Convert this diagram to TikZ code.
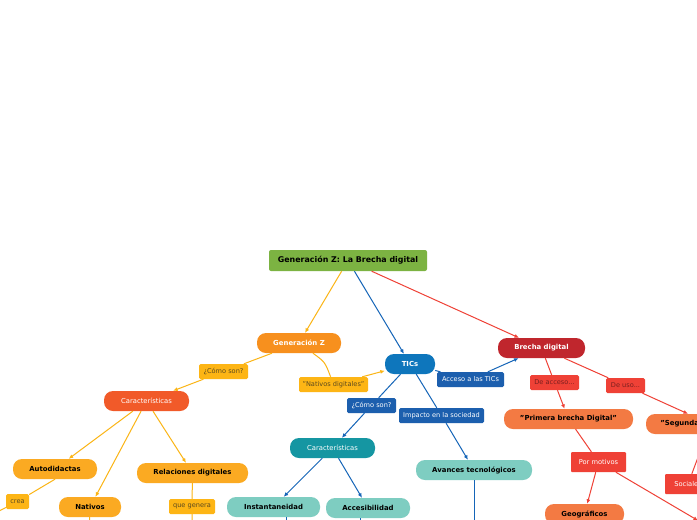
\documentclass[tikz,border=0pt]{standalone}
\usepackage{fontspec}
\setmainfont{DejaVu Sans}
\usetikzlibrary{arrows.meta}

\definecolor{cRoot}{HTML}{7CB342}
\definecolor{cGenZ}{HTML}{F7901E}
\definecolor{cTics}{HTML}{0E76BC}
\definecolor{cBrecha}{HTML}{C0262D}
\definecolor{cYlw}{HTML}{FDB515}
\definecolor{cYlwTxt}{HTML}{5C4A1E}
\definecolor{cCarA}{HTML}{F15A29}
\definecolor{cBlueTag}{HTML}{1C5FAE}
\definecolor{cRedTag}{HTML}{EF4136}
\definecolor{cRedTxt}{HTML}{7A1F1F}
\definecolor{cOrng}{HTML}{F37A43}
\definecolor{cCarB}{HTML}{1596A2}
\definecolor{cMint}{HTML}{7ECDC1}
\definecolor{cAmber}{HTML}{FBAA22}
\definecolor{lnYlw}{HTML}{FBB515}
\definecolor{lnBlu}{HTML}{1565B8}
\definecolor{lnRed}{HTML}{EF4136}

\begin{document}
\begin{tikzpicture}[x=1pt,y=-1pt,
    pill/.style={rounded corners=9pt, minimum height=20pt, inner sep=0pt,
        font=\fontsize{6.9}{8}\selectfont\bfseries},
    plain/.style={font=\fontsize{6.8}{8}\selectfont},
    tag/.style={rounded corners=1.5pt, minimum height=15pt, inner sep=0pt,
        font=\fontsize{6.6}{8}\selectfont},
    box/.style={rounded corners=1pt, minimum height=20pt, inner sep=0pt,
        font=\fontsize{6.7}{8}\selectfont},
    ylw/.style={draw=lnYlw, line width=1pt},
    blu/.style={draw=lnBlu, line width=1pt},
    rd/.style={draw=lnRed, line width=1pt},
    arr/.style={-{Latex[length=4.5pt,width=4pt]}}]

    % Canvas
    \fill[white] (0,0) rectangle (697,520);
    \useasboundingbox (0,0) rectangle (697,520);

    % Root
    \node[fill=cRoot, rounded corners=2pt, minimum width=158pt, minimum height=21pt,
        inner sep=0pt, font=\fontsize{7.9}{9}\selectfont\bfseries] (root) at (348,260.5)
        {Generación Z: La Brecha digital};

    % Main topics
    \node[pill, fill=cGenZ, text=white, minimum width=84pt] (genz) at (299,343) {Generación Z};
    \node[pill, fill=cTics, text=white, minimum width=50pt] (tics) at (410,364) {TICs};
    \node[pill, fill=cBrecha, text=white, minimum width=87pt] (brecha) at (541.5,348) {Brecha digital};

    % Generacion Z branch
    \node[tag, fill=cYlw, text=cYlwTxt, minimum width=49pt] (comoA) at (223.5,371.5) {¿Cómo son?};
    \node[tag, fill=cYlw, text=cYlwTxt, minimum width=69pt] (natdig) at (333.5,384.5) {"Nativos digitales"};
    \node[pill, plain, fill=cCarA, text=white, minimum width=85pt] (carA) at (146.5,401) {Características};
    \node[pill, fill=cAmber, minimum width=84pt] (autodid) at (55,469) {Autodidactas};
    \node[pill, fill=cAmber, minimum width=111pt] (relac) at (192.5,473) {Relaciones digitales};
    \node[pill, fill=cAmber, minimum width=62pt] (nativos) at (90,507) {Nativos};
    \node[tag, fill=cYlw, text=cYlwTxt, minimum width=23pt] (crea) at (17.5,501.5) {crea};
    \node[tag, fill=cYlw, text=cYlwTxt, minimum width=46pt] (genera) at (192,506.5) {que genera};

    % TICs branch
    \node[tag, fill=cBlueTag, text=white, minimum width=67pt] (acceso) at (470.5,379.5) {Acceso a las TICs};
    \node[tag, fill=cBlueTag, text=white, minimum width=49pt] (comoB) at (371.5,405.5) {¿Cómo son?};
    \node[tag, fill=cBlueTag, text=white, minimum width=85pt] (impacto) at (441.5,415.5) {Impacto en la sociedad};
    \node[pill, plain, fill=cCarB, text=white, minimum width=85pt] (carB) at (332.5,448) {Características};
    \node[pill, fill=cMint, minimum width=116pt] (avances) at (474,470) {Avances tecnológicos};
    \node[pill, fill=cMint, minimum width=93pt] (instant) at (273.5,507) {Instantaneidad};
    \node[pill, fill=cMint, minimum width=84pt] (accesib) at (368,508) {Accesibilidad};

    % Brecha digital branch
    \node[tag, fill=cRedTag, text=cRedTxt, minimum width=49pt] (deacceso) at (554.5,382.5) {De acceso...};
    \node[tag, fill=cRedTag, text=cRedTxt, minimum width=39pt] (deuso) at (625.5,385.5) {De uso...};
    \node[pill, fill=cOrng, minimum width=129pt] (primera) at (568.5,419) {"Primera brecha Digital"};
    \node[pill, fill=cOrng, minimum width=129pt] (segunda) at (710.5,424) {"Segunda brecha Digital"};
    \node[box, fill=cRedTag, text=white, minimum width=55pt] (motivos) at (598.5,462) {Por motivos};
    \node[box, fill=cRedTag, text=white, minimum width=46pt] (sociales) at (688,484) {Sociales};
    \node[pill, fill=cOrng, minimum width=79pt] (geo) at (584.5,514) {Geográficos};

    % Loose ends below and beside the frame
    \coordinate (creaOut) at (-20,520.8);
    \coordinate (natOut) at (89,545);
    \coordinate (genOut) at (192,545);
    \coordinate (instOut) at (286,545);
    \coordinate (accOut) at (360,545);
    \coordinate (avOut) at (474,545);
    \coordinate (otroOut) at (698,520.5);

    % Connectors from the root
    \draw[ylw, arr] (root) -- (genz);
    \draw[blu, arr] (root) -- (tics);
    \draw[rd, arr] (root) -- (brecha);

    % Connectors, Generacion Z
    \draw[ylw] (genz) -- (comoA);
    \draw[ylw, arr] (comoA) -- (carA);
    \draw[ylw] (genz) .. controls (325,362) .. (natdig);
    \draw[ylw, arr] (natdig) -- (tics);
    \draw[ylw, arr] (carA) -- (autodid);
    \draw[ylw, arr] (carA) -- (nativos);
    \draw[ylw, arr] (carA) -- (relac);
    \draw[ylw] (autodid.south) -- (crea) -- (creaOut);
    \draw[ylw] (nativos) -- (natOut);
    \draw[ylw] (relac) -- (genera) -- (genOut);

    % Connectors, TICs
    \draw[blu] (tics) -- (acceso);
    \draw[blu, arr] (acceso) -- (brecha);
    \draw[blu] (tics) -- (comoB);
    \draw[blu, arr] (comoB) -- (carB);
    \draw[blu] (tics) -- (impacto);
    \draw[blu, arr] (impacto) -- (avances);
    \draw[blu, arr] (carB) -- (instant);
    \draw[blu, arr] (carB) -- (accesib);
    \draw[blu] (instant.south -| instOut) -- (instOut);
    \draw[blu] (accesib.south -| accOut) -- (accOut);
    \draw[blu] (avances) -- (avOut);

    % Connectors, Brecha digital
    \draw[rd] (brecha) -- (deacceso);
    \draw[rd, arr] (deacceso) -- (primera);
    \draw[rd] (brecha) -- (deuso);
    \draw[rd, arr] (deuso) -- (segunda);
    \draw[rd] (primera) -- (motivos);
    \draw[rd, arr] (motivos) -- (geo);
    \draw[rd, arr] (motivos) -- (otroOut);
    \draw[rd] (segunda) -- (sociales);
\end{tikzpicture}
\end{document}
